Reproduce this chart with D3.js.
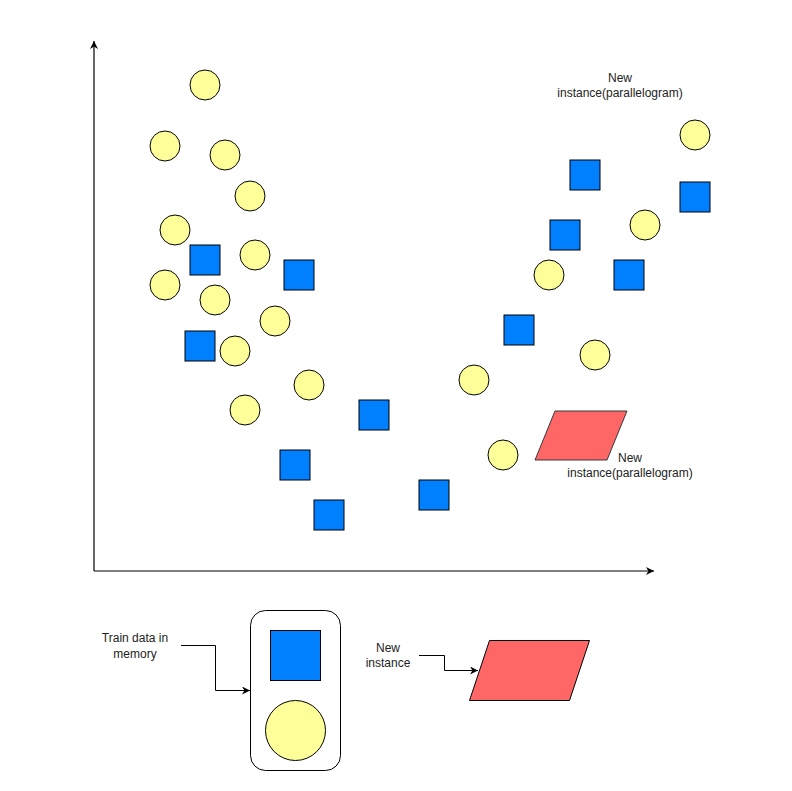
<!DOCTYPE html>
<html>
<head>
<meta charset="utf-8">
<script src="https://cdn.jsdelivr.net/npm/d3@7"></script>
<style>
  body { margin: 0; background: #fff; }
  text { font-family: "Liberation Sans", Arial, sans-serif; font-size: 12px; fill: #222; }
</style>
</head>
<body>
<div id="chart"></div>
<script>
// training points (feature units, origin at the axes corner)
var circlesX = [111, 71, 131, 156, 81, 161, 71, 121, 181, 141, 215, 151, 380, 409, 455, 501, 551, 601];
var circlesY = [486, 425, 416, 375, 341, 316, 286, 271, 250, 220, 186, 161, 191, 116, 296, 216, 346, 436];
var squaresX = [111, 205, 106, 280, 201, 235, 340, 425, 471, 491, 535, 601];
var squaresY = [311, 296, 225, 156, 106, 56, 76, 241, 336, 396, 296, 374];
// the new instance to classify
var newX = [487];
var newY = [135.5];

var width = 792, height = 791;
var svg = d3.select("#chart").append("svg")
  .attr("width", width)
  .attr("height", height);

// scales
var x = d3.scaleLinear().domain([0, 560]).range([94, 654]);
var y = d3.scaleLinear().domain([0, 530]).range([571, 41]);

// arrow marker like the draw.io classic one
svg.append("defs").append("marker")
  .attr("id", "arrow")
  .attr("viewBox", "0 0 10 10")
  .attr("refX", 10).attr("refY", 5)
  .attr("markerWidth", 8).attr("markerHeight", 8)
  .attr("markerUnits", "userSpaceOnUse")
  .attr("orient", "auto")
  .append("path")
  .attr("d", "M0,0 L10,5 L0,10 L3,5 z")
  .attr("fill", "#000");

// axes
svg.append("line")
  .attr("x1", x(0)).attr("y1", y(0))
  .attr("x2", x(0)).attr("y2", y(530))
  .attr("stroke", "#000").attr("stroke-width", 1.2)
  .attr("marker-end", "url(#arrow)");
svg.append("line")
  .attr("x1", x(0)).attr("y1", y(0))
  .attr("x2", x(560)).attr("y2", y(0))
  .attr("stroke", "#000").attr("stroke-width", 1.2)
  .attr("marker-end", "url(#arrow)");

// circles
svg.selectAll(".dot")
  .data(circlesX.map((d, i) => [d, circlesY[i]]))
  .enter().append("circle")
  .attr("class", "dot")
  .attr("cx", d => x(d[0]))
  .attr("cy", d => y(d[1]))
  .attr("r", 15)
  .attr("fill", "#ffff99")
  .attr("stroke", "#000");

// squares
var sq = 30;
svg.selectAll(".sq")
  .data(squaresX.map((d, i) => [d, squaresY[i]]))
  .enter().append("rect")
  .attr("class", "sq")
  .attr("x", d => x(d[0]) - sq / 2)
  .attr("y", d => y(d[1]) - sq / 2)
  .attr("width", sq)
  .attr("height", sq)
  .attr("fill", "#007fff")
  .attr("stroke", "#000");

// parallelogram path around a centre
function para(cx, cy, w, h, skew) {
  return "M" + (cx - w / 2 + skew) + "," + (cy - h / 2) +
    " L" + (cx + w / 2) + "," + (cy - h / 2) +
    " L" + (cx + w / 2 - skew) + "," + (cy + h / 2) +
    " L" + (cx - w / 2) + "," + (cy + h / 2) + " Z";
}

svg.selectAll(".new")
  .data(newX.map((d, i) => [d, newY[i]]))
  .enter().append("path")
  .attr("class", "new")
  .attr("d", d => para(x(d[0]), y(d[1]), 92, 49, 20))
  .attr("fill", "#ff6666")
  .attr("stroke", "#36393d");

function label(lines, cx, cy) {
  var t = svg.append("text").attr("text-anchor", "middle");
  lines.forEach(function(l, i) {
    t.append("tspan").attr("x", cx).attr("y", cy + i * 15.5).text(l);
  });
}

label(["New", "instance(parallelogram)"], 620, 81.5);
label(["New", "instance(parallelogram)"], 630, 461.5);

// legend box with train data
svg.append("rect")
  .attr("x", 250.5).attr("y", 610.5)
  .attr("width", 90).attr("height", 160)
  .attr("rx", 15).attr("ry", 15)
  .attr("fill", "#fff").attr("stroke", "#000");
svg.append("rect")
  .attr("x", 270.5).attr("y", 630.5)
  .attr("width", 50).attr("height", 50)
  .attr("fill", "#007fff").attr("stroke", "#000");
svg.append("circle")
  .attr("cx", 295.5).attr("cy", 730.5).attr("r", 30)
  .attr("fill", "#ffff99").attr("stroke", "#000");

label(["Train data in", "memory"], 135, 642);
svg.append("path")
  .attr("d", "M181,645.5 H215.5 V690.5 H250")
  .attr("fill", "none").attr("stroke", "#000")
  .attr("marker-end", "url(#arrow)");

label(["New", "instance"], 388, 651.5);
svg.append("path")
  .attr("d", "M419,655.5 H444.5 V670.5 H478")
  .attr("fill", "none").attr("stroke", "#000")
  .attr("marker-end", "url(#arrow)");

svg.append("path")
  .attr("d", para(529.5, 670.5, 120, 60, 20))
  .attr("fill", "#ff6666")
  .attr("stroke", "#000");
</script>
</body>
</html>
